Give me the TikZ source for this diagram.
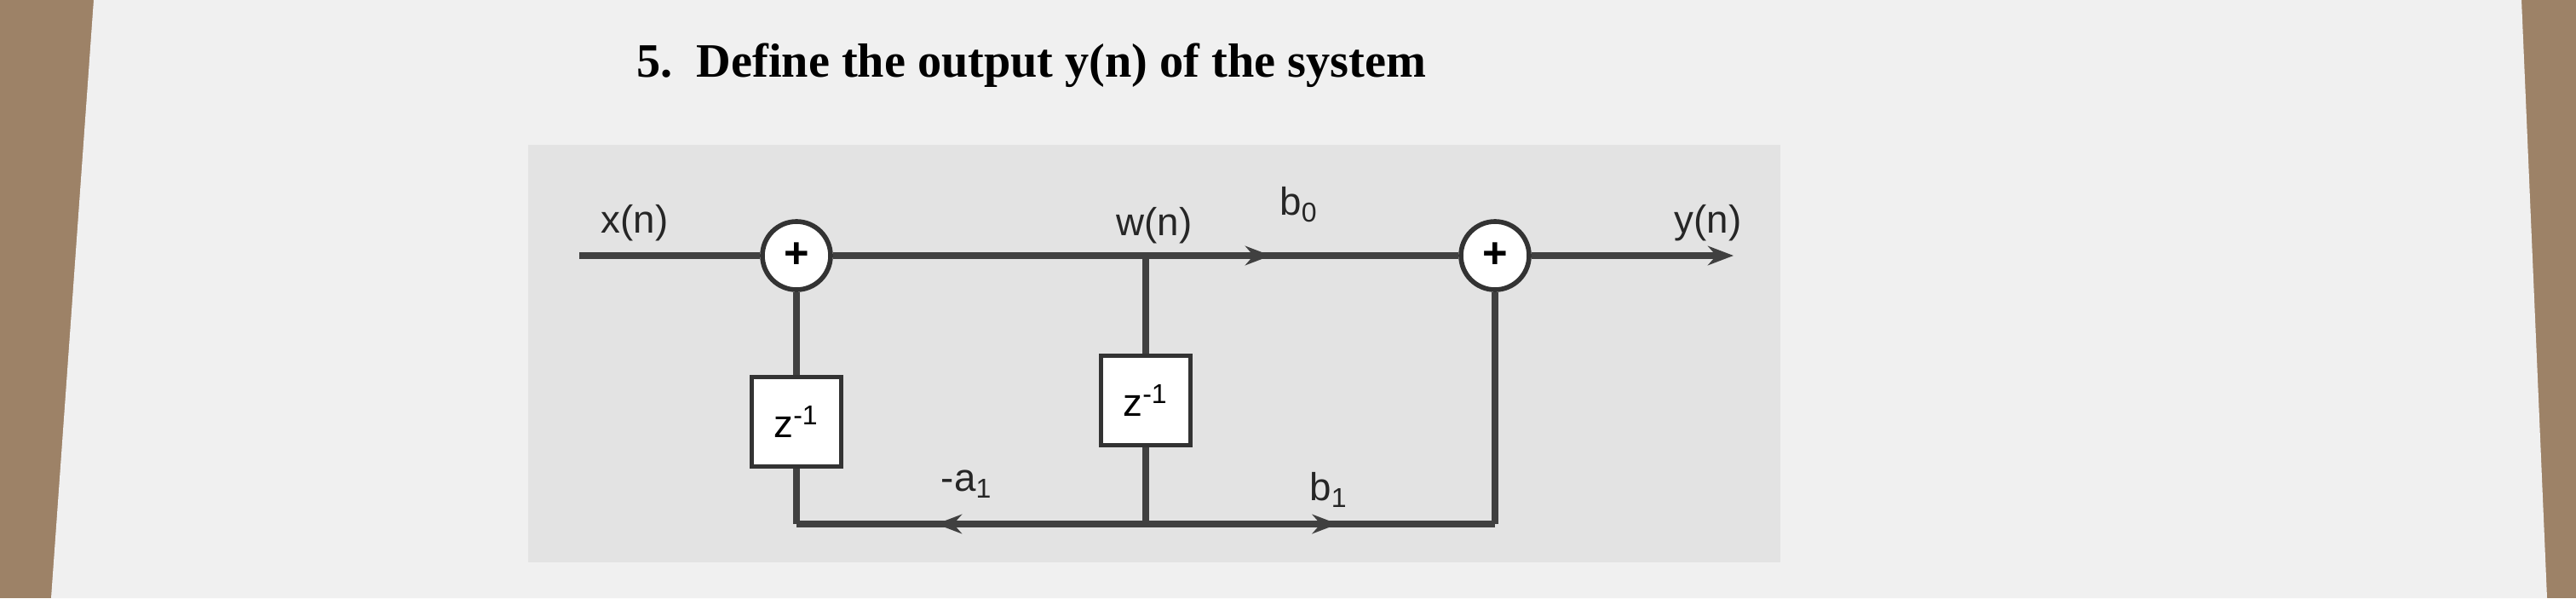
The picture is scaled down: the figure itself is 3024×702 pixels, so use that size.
\documentclass[tikz,border=0pt]{standalone}
\usepackage{fontspec}
\setmainfont{Liberation Serif}
\newfontfamily\diag{Liberation Sans}
\usetikzlibrary{arrows.meta,decorations.markings}
\begin{document}
\begin{tikzpicture}[x=0.01cm,y=-0.01cm,
  sig/.style={line width=2.2pt,draw=black!75},
  adder/.style={circle,draw=black!80,line width=1.6pt,fill=white,minimum size=0.8cm,inner sep=0pt,font=\diag\bfseries\Large},
  dly/.style={draw=black!80,line width=1.6pt,fill=white,minimum width=1.05cm,minimum height=1.05cm,font=\diag\fontsize{13}{15}\selectfont},
  lbl/.style={font=\diag\fontsize{13}{15}\selectfont,text=black!85},
  mid/.style={decoration={markings,mark=at position #1 with {\arrow{Stealth[length=0.3cm]}}},postaction=decorate}]
\useasboundingbox (0,0) rectangle (3024,702);
\fill[brown!60!black!70] (0,0) rectangle (3024,702);
\fill[gray!12] (110,0) -- (2960,0) -- (2990,702) -- (60,702) -- cycle;
\fill[gray!22] (620,170) rectangle (2090,660);
\node[anchor=base west,font=\fontsize{16}{19}\selectfont\bfseries] (title) at (735,90) {5.\ \ Define the output y(n) of the system};
\coordinate (in) at (680,300);
\node[adder] (a1) at (935,300) {+};
\node[adder] (a2) at (1755,300) {+};
\coordinate (w) at (1345,300);
\coordinate (out) at (2035,300);
\node[dly] (d1) at (935,495) {z\textsuperscript{-1}};
\node[dly] (d2) at (1345,470) {z\textsuperscript{-1}};
\coordinate (bl) at (935,615);
\coordinate (bm) at (1345,615);
\coordinate (br) at (1755,615);
\draw[sig] (in) -- (a1);
\draw[sig] (a1) -- (w);
\draw[sig,mid=0.4] (w) -- (a2);
\draw[sig,-{Stealth[length=0.3cm]}] (a2) -- (out);
\draw[sig] (a1) -- (d1);
\draw[sig] (w) -- (d2);
\draw[sig] (d1) -- (bl);
\draw[sig] (d2) -- (bm);
\draw[sig,mid=0.6] (bm) -- (bl);
\draw[sig,mid=0.55] (bm) -- (br);
\draw[sig] (br) -- (a2);
\node[lbl] (lx) at (745,262) {x(n)};
\node[lbl] (lw) at (1355,265) {w(n)};
\node[lbl] (lb0) at (1525,240) {b\textsubscript{0}};
\node[lbl] (ly) at (2005,262) {y(n)};
\node[lbl] (la) at (1135,568) {-a\textsubscript{1}};
\node[lbl] (lb1) at (1560,575) {b\textsubscript{1}};
\end{tikzpicture}
\end{document}
